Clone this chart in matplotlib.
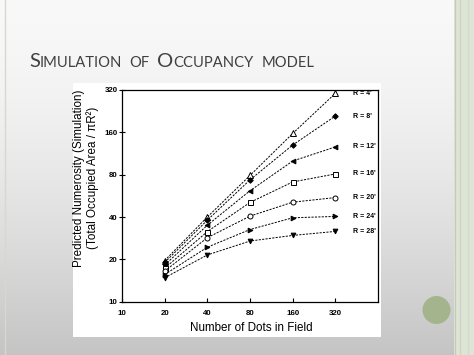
import numpy as np
import matplotlib
matplotlib.use("Agg")
import matplotlib.pyplot as plt
from matplotlib.patches import Rectangle, Circle
from matplotlib.ticker import FixedLocator, NullLocator

# data
dots = [20, 40, 80, 160, 320]
r4 = [19.6, 40, 79, 157, 303]
r8 = [19.0, 38, 73.5, 130, 209]
r12 = [18.2, 35, 61.5, 100, 126]
r16 = [17.3, 31.5, 50.8, 71, 81]
r20 = [16.5, 28.5, 40.6, 51, 55]
r24 = [15.6, 24.4, 32.6, 39.5, 40.4]
r28 = [14.8, 21.5, 27, 29.6, 31.6]
series_labels = ["R = 4'", "R = 8'", "R = 12'", "R = 16'", "R = 20'", "R = 24'", "R = 28'"]
tick_vals = [10, 20, 40, 80, 160, 320]

W, H = 474, 355
fig = plt.figure(figsize=(W / 100, H / 100), dpi=100)

# slide background gradient
bg = fig.add_axes([0, 0, 1, 1])
grad = np.linspace(0, 1, 256) ** 1.6
col_top = np.array([0.975, 0.975, 0.975])
col_bot = np.array([0.77, 0.77, 0.77])
img = col_top[None, None, :] * (1 - grad[:, None, None]) + col_bot[None, None, :] * grad[:, None, None]
bg.imshow(np.repeat(img, 2, axis=1), aspect="auto", extent=[0, W, H, 0])
bg.set_xlim(0, W)
bg.set_ylim(H, 0)
bg.axis("off")

# slide decoration
bg.add_patch(Rectangle((454, 0), 20, H, color="#dfe5d6", lw=0))
bg.plot([455, 455], [0, H], color="#c3ccb8", lw=1)
bg.plot([460, 460], [0, H], color="#ccd5c2", lw=1)
bg.plot([468, 468], [0, H], color="#d3dbc9", lw=1)
bg.plot([5, 5], [0, H], color="#d4dacd", lw=1)
bg.add_patch(Circle((436.5, 310), 14, color="#a4b58e", lw=0))

# white scanned-image area
bg.add_patch(Rectangle((73, 83), 308, 254, color="white", lw=0))

# title in small caps
renderer = fig.canvas.get_renderer()
x = 29 / W
ty = 1 - 67 / H
for txt, big in [("S", True), ("IMULATION", False), (" ", False), ("OF", False),
                 (" ", False), ("O", True), ("CCUPANCY", False), (" ", False), ("MODEL", False)]:
    if txt == " ":
        x += 7 / W
        continue
    t = fig.text(x, ty, txt, fontsize=14.6 if big else 10.6, family="Lato",
                 color="#404040", va="baseline", ha="left")
    bb = t.get_window_extent(renderer)
    x += (bb.width + (-0.5 if big else 0.8)) / W

# chart axes
ax = fig.add_axes([122 / W, 1 - 301.7 / H, 256 / W, (301.7 - 90) / H])
ax.set_facecolor("white")
series = [r4, r8, r12, r16, r20, r24, r28]
markers = ["^", "D", "<", "s", "o", ">", "v"]
fills = ["white", "black", "black", "white", "white", "black", "black"]
sizes = [4, 2.8, 3.4, 3.6, 3.6, 3.4, 3.4]
for vals, m, fc, ms, lab in zip(series, markers, fills, sizes, series_labels):
    ax.plot(dots, vals, linestyle=(0, (2.2, 1.3)), color="black", lw=0.7,
            marker=m, markersize=ms, markerfacecolor=fc, markeredgecolor="black",
            markeredgewidth=0.7)
    ax.annotate(lab, xy=(dots[-1], vals[-1]), xytext=(13, 0), textcoords="offset points",
                fontsize=5, family="Liberation Sans", weight="bold", va="center", ha="left")

ax.set_xscale("log", base=2)
ax.set_yscale("log", base=2)
ax.set_xlim(10, 640)
ax.set_ylim(10, 320)
ax.xaxis.set_major_locator(FixedLocator(tick_vals))
ax.yaxis.set_major_locator(FixedLocator(tick_vals))
ax.xaxis.set_minor_locator(NullLocator())
ax.yaxis.set_minor_locator(NullLocator())
ax.set_xticklabels([str(v) for v in tick_vals])
ax.set_yticklabels([str(v) for v in tick_vals])
for lbl in ax.get_xticklabels() + ax.get_yticklabels():
    lbl.set_family("Liberation Sans")
    lbl.set_weight("bold")
    lbl.set_fontsize(5.7)
ax.tick_params(axis="x", direction="in", length=3, width=0.8, pad=6)
ax.tick_params(axis="y", direction="inout", length=4.5, width=0.8, pad=1)
for sp in ax.spines.values():
    sp.set_linewidth(0.9)

fig.text(251.5 / W, 1 - 328 / H, "Number of Dots in Field", fontsize=8.4,
         family="Liberation Sans", ha="center", va="center")
fig.text(86 / W, 1 - 178 / H,
         "Predicted Numerosity (Simulation)\n(Total Occupied Area / πR²)",
         fontsize=8.4, family="Liberation Sans", rotation=90, ha="center", va="center",
         linespacing=1.05, multialignment="center")

fig.savefig("out.png", dpi=100)
